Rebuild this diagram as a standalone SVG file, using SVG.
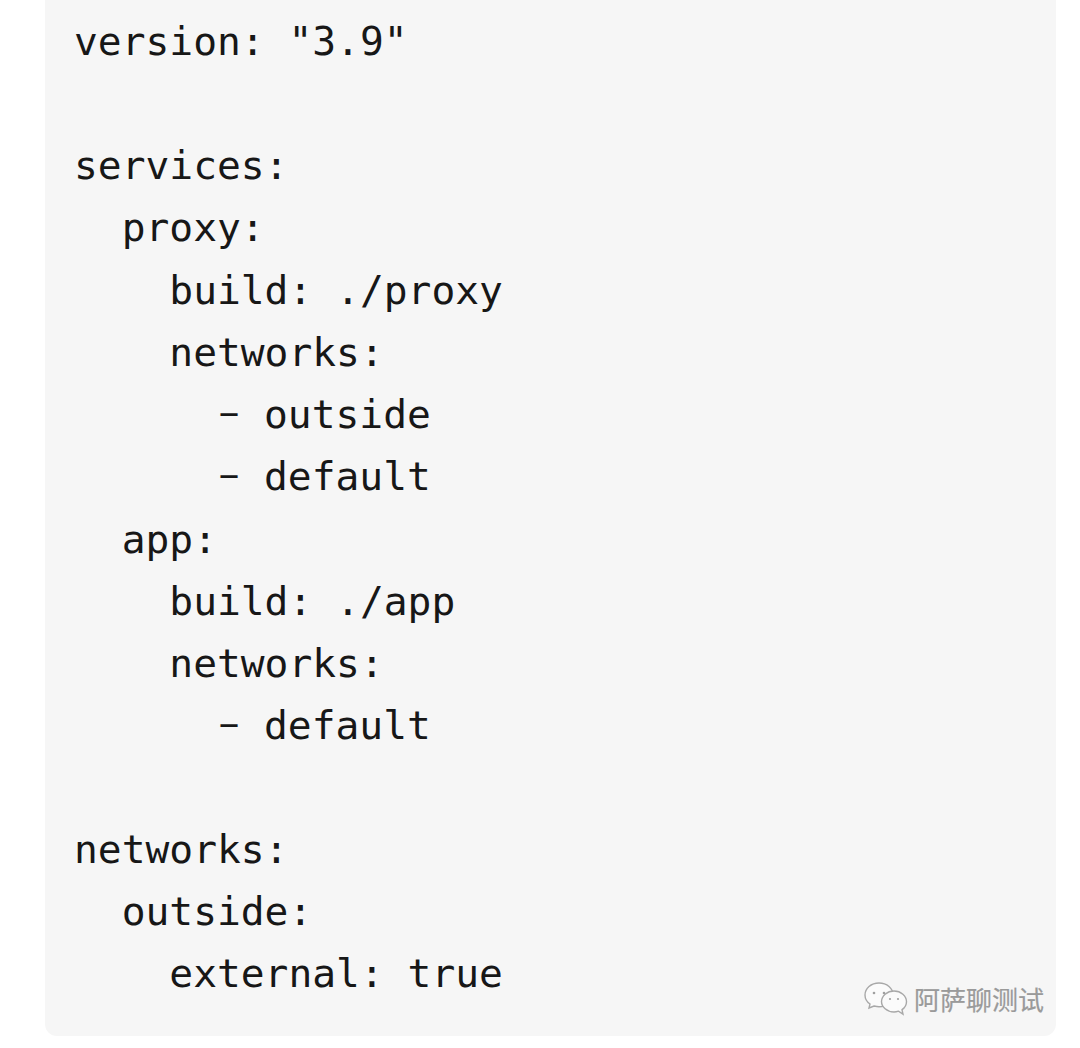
<svg xmlns="http://www.w3.org/2000/svg" width="1080" height="1048" viewBox="0 0 1080 1048">
<style>
.c{font-family:"DejaVu Sans Mono","Liberation Mono",monospace;font-size:39.6px;fill:#171717;white-space:pre}
.w{font-family:"Noto Sans CJK SC","Noto Sans",sans-serif;font-size:26px;fill:#9a9a9a;stroke:#9a9a9a;stroke-width:.2}
.b{fill:#fbfbfb;stroke:#a8a8a8;stroke-width:1.4}
.e{fill:#a0a0a0}
</style>
<rect width="1080" height="1048" fill="#fff"/>
<rect x="45" y="-20" width="1011" height="1056" rx="12" fill="#f6f6f6"/>
<g id="code">
<text class="c" x="74" y="55">version: "3.9"</text>
<text class="c" x="74" y="179">services:</text>
<text class="c" x="74" y="241">  proxy:</text>
<text class="c" x="74" y="304">    build: ./proxy</text>
<text class="c" x="74" y="366">    networks:</text>
<text class="c" transform="translate(208.800 424) scale(1.7 .85)">-</text>
<text class="c" x="264" y="428">outside</text>
<text class="c" transform="translate(208.800 486) scale(1.7 .85)">-</text>
<text class="c" x="264" y="490">default</text>
<text class="c" x="74" y="553">  app:</text>
<text class="c" x="74" y="615">    build: ./app</text>
<text class="c" x="74" y="677">    networks:</text>
<text class="c" transform="translate(208.800 735) scale(1.7 .85)">-</text>
<text class="c" x="264" y="739">default</text>
<text class="c" x="74" y="863">networks:</text>
<text class="c" x="74" y="925">  outside:</text>
<text class="c" x="74" y="987">    external: true</text>
</g>
<g id="watermark">
<path class="b" d="M879 983c-8 0-14 5.500-14 12 0 4 2 7 5 9l-1 4 5-2c2 .5 3.500 .8 5 .8 8 0 14-5.500 14-12s-6-11.800-14-11.800z"/>
<path class="b" d="M894 991c-7 0-12.500 5-12.500 10.500s5.500 10.500 12.500 10.500c1.500 0 3-.3 4.500-.8l4.500 3-1-4.500c3-2 4.500-5 4.500-8.200 0-5.500-5.500-10.500-12.500-10.500z"/>
<circle class="e" cx="874" cy="993" r="1.300"/><circle class="e" cx="884" cy="993" r="1.300"/>
<circle class="e" cx="890" cy="999" r="1.100"/><circle class="e" cx="898" cy="999" r="1.100"/>
<text class="w" x="914" y="1010">阿萨聊测试</text>
</g>
</svg>
